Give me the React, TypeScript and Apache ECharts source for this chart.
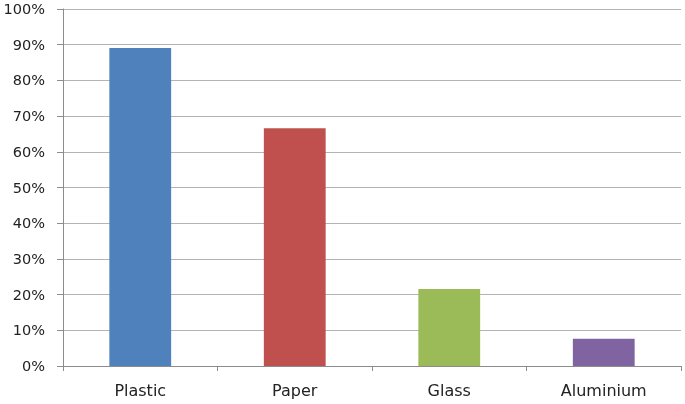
import React, { useEffect, useRef } from "react";
import * as echarts from "echarts";

const categories = ["Plastic", "Paper", "Glass", "Aluminium"];
const values = [89.1, 66.6, 21.6, 7.6];
const barColors = ["#4F81BD", "#C0504D", "#9BBB59", "#8064A2"];
const yTicks = [0, 10, 20, 30, 40, 50, 60, 70, 80, 90, 100];

export default function App() {
  const ref = useRef<HTMLDivElement>(null);
  useEffect(() => {
    if (!ref.current) return;
    const chart = echarts.init(ref.current, null, { renderer: "svg" });
    chart.setOption({
      animation: false,
      grid: { left: 63, right: 4, top: 9, bottom: 38, containLabel: false },
      xAxis: {
        type: "category",
        data: categories,
        axisLine: { show: true, lineStyle: { color: "#8c8c8c", width: 1 } },
        axisTick: { show: true, alignWithLabel: false, length: 5, lineStyle: { color: "#8c8c8c" } },
        axisLabel: { color: "#222", fontFamily: "DejaVu Sans", fontSize: 16, margin: 16 },
        splitLine: { show: false },
      },
      yAxis: {
        type: "value",
        min: yTicks[0],
        max: yTicks[yTicks.length - 1],
        interval: 10,
        axisLine: { show: true, lineStyle: { color: "#8c8c8c", width: 1 } },
        axisTick: { show: true, length: 6, lineStyle: { color: "#8c8c8c" } },
        axisLabel: {
          color: "#222",
          fontFamily: "DejaVu Sans",
          fontSize: 14.5,
          margin: 18,
          formatter: (v: number) => `${v}%`,
        },
        splitLine: { show: true, lineStyle: { color: "#b4b4b4", width: 1 } },
      },
      series: [
        {
          type: "bar",
          barCategoryGap: "60%",
          data: values.map((v, i) => ({
            value: v,
            itemStyle: { color: barColors[i] },
          })),
        },
      ],
    });
    return () => chart.dispose();
  }, []);
  return (
    <div
      ref={ref}
      style={{ position: "fixed", left: 0, top: 0, width: 685, height: 404 }}
    />
  );
}
